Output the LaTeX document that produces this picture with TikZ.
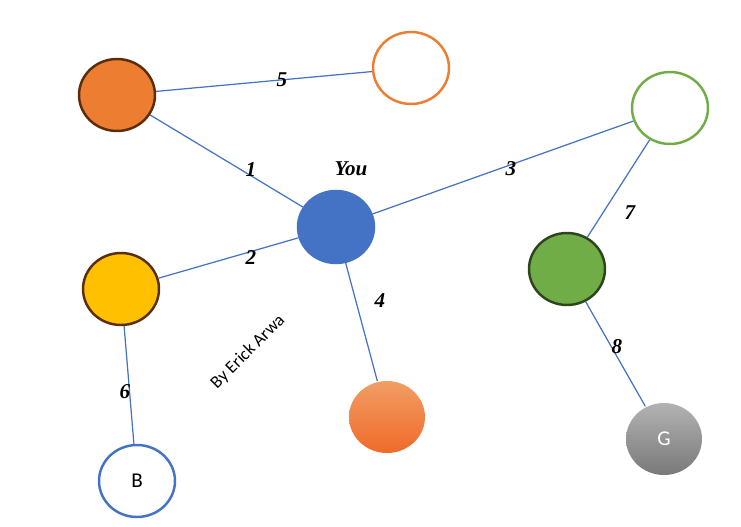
\documentclass[tikz,border=0pt]{standalone}
\usepackage{fontspec}
\setmainfont{Liberation Serif}
\newfontfamily\sansf{Carlito}
\usetikzlibrary{shapes.geometric}
\definecolor{edgeblue}{HTML}{4472C4}
\definecolor{ornge}{HTML}{ED7D31}
\definecolor{gold}{HTML}{FFC000}
\definecolor{grn}{HTML}{70AD47}
\definecolor{brwn}{HTML}{5A2D0C}
\tikzset{
  vtx/.style={draw,ellipse,minimum width=76\pgfkeysvalueof{/pgf/x}/1cm,line width=1.4pt,minimum width=1.52cm,minimum height=1.44cm,inner sep=0pt},
  lnk/.style={edgeblue,line width=0.7pt},
  lbl/.style={font=\bfseries\itshape\large}
}
\begin{document}
\begin{tikzpicture}[x=0.02cm,y=-0.02cm]
\useasboundingbox (0,0) rectangle (741,527);
\node[vtx,fill=ornge,draw=brwn](a) at (117,95) {};
\node[vtx,draw=ornge,fill=white](e) at (411,68) {};
\node[vtx,fill=edgeblue,draw=edgeblue](you) at (336,227) {};
\node[vtx,draw=grn,fill=white](g1) at (670,108) {};
\node[vtx,fill=gold,draw=brwn](y) at (121,289) {};
\node[vtx,draw=none,top color=ornge!75!white,bottom color=ornge!85!red](o) at (387,417) {};
\node[vtx,fill=grn,draw=grn!40!black](g2) at (567,269) {};
\node[vtx,draw=none,top color=gray!60,bottom color=gray!95!black,text=white,font=\sansf\large](gg) at (664,439) {G};
\node[vtx,draw=edgeblue,fill=white,font=\sansf\large](b) at (137,481) {B};

\draw[lnk] (a) -- (e);
\draw[lnk] (a) -- (you);
\draw[lnk] (you) -- (y);
\draw[lnk] (you) -- (g1);
\draw[lnk] (you) -- (o);
\draw[lnk] (y) -- (b);
\draw[lnk] (g1) -- (g2);
\draw[lnk] (g2) -- (gg);

\node[lbl](l5) at (282,80) {5};
\node[lbl](l1) at (251,170) {1};
\node[lbl](l2) at (251,258) {2};
\node[lbl](l3) at (511,169) {3};
\node[lbl](l4) at (380,301) {4};
\node[lbl](l6) at (125,392) {6};
\node[lbl](l7) at (630,213) {7};
\node[lbl](l8) at (617,347) {8};
\node[lbl](lyou) at (351,169) {You};
\node[font=\sansf,rotate=45](by) at (248,352) {By Erick Arwa};
\end{tikzpicture}
\end{document}
